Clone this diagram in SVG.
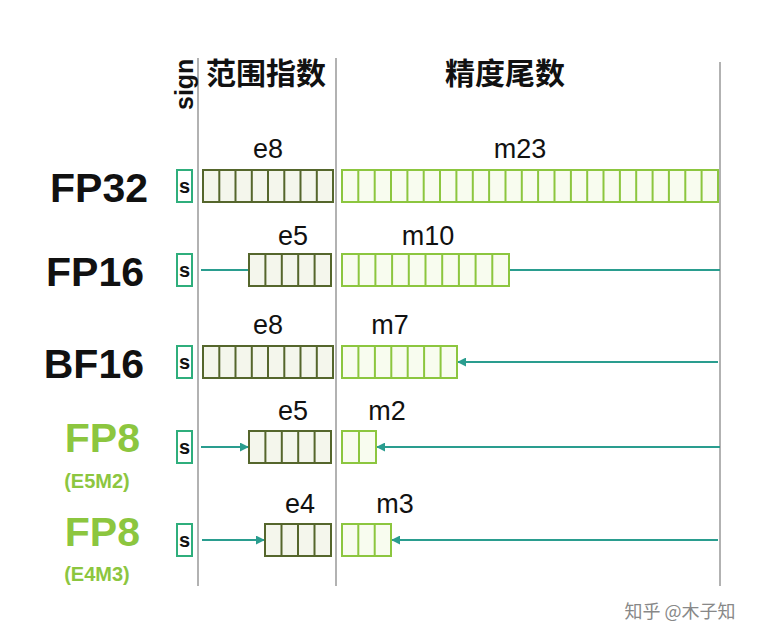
<svg xmlns="http://www.w3.org/2000/svg" width="770" height="642" viewBox="0 0 770 642">
<defs>
<style>
.lbl{font-family:"Liberation Sans",Arial,sans-serif;font-size:27px;fill:#111}
.nm{font-family:"Liberation Sans",Arial,sans-serif;font-size:41px;font-weight:bold;fill:#111;text-anchor:end}
.g{fill:#8cc63f}
.sub{font-family:"Liberation Sans",Arial,sans-serif;font-size:20px;font-weight:bold;fill:#8cc63f;text-anchor:middle}
.hd{font-family:"Noto Sans CJK SC",sans-serif;font-size:30px;font-weight:bold;fill:#111}
.s{fill:#fff;stroke:#2fae7c;stroke-width:2}
.st{font-family:"Liberation Sans",Arial,sans-serif;font-size:20px;font-weight:bold;fill:#111;text-anchor:middle}
.e{fill:#f4f6ec;stroke:#55662c;stroke-width:2}
.m{fill:#f8fcef;stroke:#8cc63f;stroke-width:2}
.vl{stroke:#999;stroke-width:1.5}
.cn{stroke:#2a9d8f;stroke-width:1.8;fill:none}
</style>
<marker id="ar" viewBox="0 0 10 10" refX="9" refY="5" markerWidth="5" markerHeight="5" orient="auto-start-reverse"><path d="M0,0 L10,5 L0,10z" fill="#2a9d8f"/></marker>
</defs>
<rect width="770" height="642" fill="#fff"/>
<g id="axes">
<line class="vl" x1="198" y1="58" x2="198" y2="586"/>
<line class="vl" x1="336" y1="58" x2="336" y2="586"/>
<line class="vl" x1="720" y1="62" x2="720" y2="586"/>
<text class="hd" x="266" y="84" text-anchor="middle">范围指数</text>
<text class="hd" x="505" y="84" text-anchor="middle">精度尾数</text>
<text transform="translate(193,110) rotate(-90)" style="font-family:'Liberation Sans',Arial,sans-serif;font-size:25px;font-weight:bold;fill:#111">sign</text>
</g>
<g id="connectors">
<line class="cn" x1="201" y1="270" x2="249" y2="270"/>
<line class="cn" x1="720" y1="270" x2="510" y2="270"/>
<line class="cn" x1="718" y1="362" x2="458" y2="362" marker-end="url(#ar)"/>
<line class="cn" x1="201" y1="447" x2="248" y2="447" marker-end="url(#ar)"/>
<line class="cn" x1="720" y1="447" x2="377" y2="447" marker-end="url(#ar)"/>
<line class="cn" x1="202" y1="540" x2="264" y2="540" marker-end="url(#ar)"/>
<line class="cn" x1="718" y1="540" x2="392" y2="540" marker-end="url(#ar)"/>
</g>
<g id="fp32">
<text class="nm" x="148" y="202">FP32</text>
<rect class="s" x="177" y="170" width="15" height="32"/><text class="st" x="184.5" y="193">s</text>
<text class="lbl" x="268" y="158" text-anchor="middle">e8</text>
<text class="lbl" x="520" y="158" text-anchor="middle">m23</text>
<path class="e" d="M203,170h130v32h-130z M219.3,170v32 M235.5,170v32 M251.8,170v32 M268,170v32 M284.3,170v32 M300.5,170v32 M316.8,170v32"/>
<path class="m" d="M342,170h376v32h-376z M358.3,170v32 M374.7,170v32 M391,170v32 M407.4,170v32 M423.7,170v32 M440,170v32 M456.4,170v32 M472.8,170v32 M489.1,170v32 M505.5,170v32 M521.8,170v32 M538.1,170v32 M554.5,170v32 M570.9,170v32 M587.2,170v32 M603.5,170v32 M619.9,170v32 M636.2,170v32 M652.6,170v32 M668.9,170v32 M685.3,170v32 M701.6,170v32"/>
</g>
<g id="fp16">
<text class="nm" x="144" y="286">FP16</text>
<rect class="s" x="177" y="254" width="15" height="32"/><text class="st" x="184.5" y="277">s</text>
<text class="lbl" x="293" y="245" text-anchor="middle">e5</text>
<text class="lbl" x="428" y="245" text-anchor="middle">m10</text>
<path class="e" d="M249,254h82v32h-82z M265.4,254v32 M281.8,254v32 M298.2,254v32 M314.6,254v32"/>
<path class="m" d="M342,254h167v32h-167z M358.7,254v32 M375.4,254v32 M392.1,254v32 M408.8,254v32 M425.5,254v32 M442.2,254v32 M458.9,254v32 M475.6,254v32 M492.3,254v32"/>
</g>
<g id="bf16">
<text class="nm" x="144" y="378">BF16</text>
<rect class="s" x="177" y="346" width="15" height="32"/><text class="st" x="184.5" y="369">s</text>
<text class="lbl" x="268" y="334" text-anchor="middle">e8</text>
<text class="lbl" x="390" y="334" text-anchor="middle">m7</text>
<path class="e" d="M203,346h130v32h-130z M219.3,346v32 M235.5,346v32 M251.8,346v32 M268,346v32 M284.3,346v32 M300.5,346v32 M316.8,346v32"/>
<path class="m" d="M342,346h115v32h-115z M358.4,346v32 M374.9,346v32 M391.3,346v32 M407.7,346v32 M424.1,346v32 M440.6,346v32"/>
</g>
<g id="fp8e5m2">
<text class="nm g" x="140" y="452">FP8</text>
<text class="sub" x="97" y="488">(E5M2)</text>
<rect class="s" x="177" y="431" width="15" height="32"/><text class="st" x="184.5" y="454">s</text>
<text class="lbl" x="293" y="420" text-anchor="middle">e5</text>
<text class="lbl" x="387" y="420" text-anchor="middle">m2</text>
<path class="e" d="M249,431h82v32h-82z M265.4,431v32 M281.8,431v32 M298.2,431v32 M314.6,431v32"/>
<path class="m" d="M342,431h34v32h-34z M359,431v32"/>
</g>
<g id="fp8e4m3">
<text class="nm g" x="140" y="546">FP8</text>
<text class="sub" x="97" y="581">(E4M3)</text>
<rect class="s" x="177" y="524" width="15" height="32"/><text class="st" x="184.5" y="547">s</text>
<text class="lbl" x="300" y="513" text-anchor="middle">e4</text>
<text class="lbl" x="395" y="513" text-anchor="middle">m3</text>
<path class="e" d="M265,524h66v32h-66z M281.5,524v32 M298,524v32 M314.5,524v32"/>
<path class="m" d="M342,524h49v32h-49z M358.3,524v32 M374.7,524v32"/>
</g>
<text x="680" y="618" text-anchor="middle" style="font-family:'Noto Sans CJK SC',sans-serif;font-size:18px;fill:#888">知乎 @木子知</text>
</svg>
